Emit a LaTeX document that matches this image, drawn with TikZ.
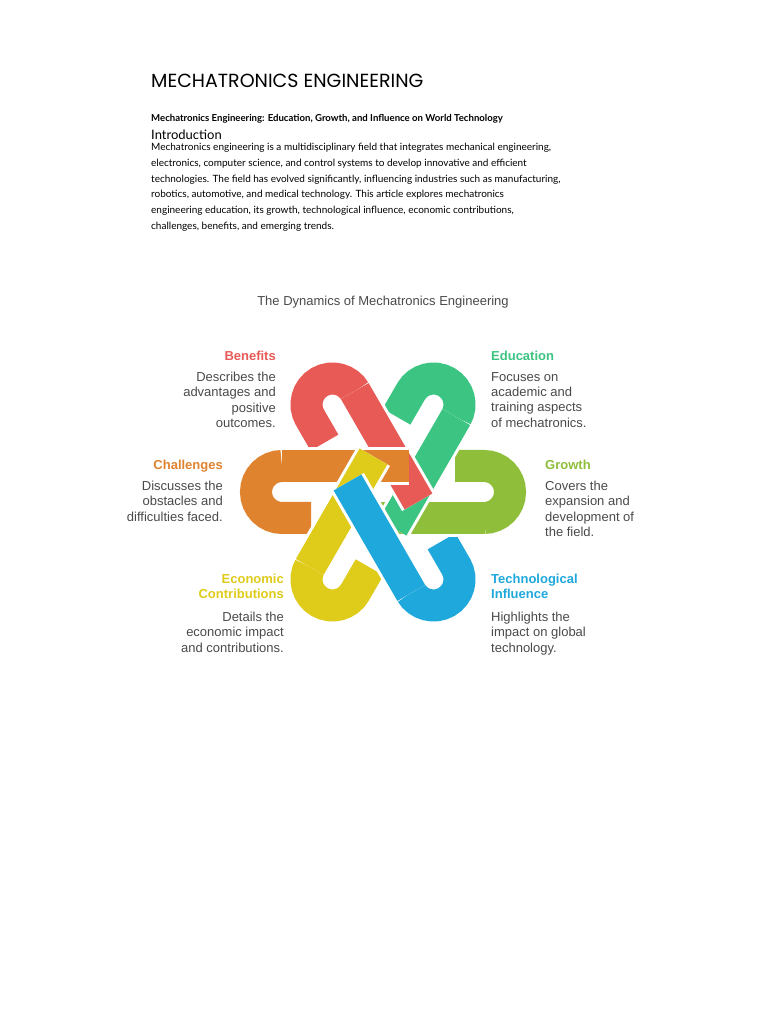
\documentclass[tikz,border=0pt]{standalone}
\usepackage{fontspec}
\setmainfont{Liberation Sans}
\newfontfamily\lato{Lato}
\newfontfamily\pop{Poppins}
\definecolor{cred}{HTML}{E85A55}
\definecolor{cgreen}{HTML}{3CC482}
\definecolor{clime}{HTML}{8FBE3A}
\definecolor{cblue}{HTML}{1FA8DC}
\definecolor{cyellow}{HTML}{DFCB1A}
\definecolor{corange}{HTML}{E0832F}
\definecolor{ctext}{HTML}{4A4A4A}
\tikzset{band/.style={draw=#1,line width=32pt,line cap=butt,preaction={draw=white,line width=38pt}},
 lab/.style={font=\fontsize{13}{15.3}\selectfont\bfseries,inner sep=0pt},
 desc/.style={font=\fontsize{13}{15.3}\selectfont,text=ctext,inner sep=0pt},
 body/.style={font=\lato\fontsize{10}{15.8}\selectfont,inner sep=0pt,anchor=north west,align=left}}
\newcommand\shortpart[2]{\begin{scope}[shift={(383,532)},rotate=#1]\draw[band=#2] (72,26) -- (101,26) arc (90:-90:26);\end{scope}}
\newcommand\longpart[2]{\begin{scope}[shift={(383,532)},rotate=#1]\draw[band=#2] (101.5,-26) -- (-26,-26);\end{scope}}
\begin{document}
\begin{tikzpicture}[x=1pt,y=1pt]
\useasboundingbox (0,0) rectangle (768,1024);
\fill[white] (0,0) rectangle (768,1024);
\node[inner sep=0pt,anchor=base west,font=\pop\fontsize{19}{22}\selectfont] (title) at (151,1024-88) {MECHATRONICS ENGINEERING};
\node[inner sep=0pt,anchor=base west,font=\lato\bfseries\fontsize{9.6}{12}\selectfont] (sub) at (151,1024-122) {Mechatronics Engineering: Education, Growth, and Influence on World Technology};
\node[inner sep=0pt,anchor=base west,font=\lato\fontsize{13}{15}\selectfont] (intro) at (151,1024-140) {Introduction};
\node[body] (txt) at (151,1024-143) {Mechatronics engineering is a multidisciplinary field that integrates mechanical engineering,\\
electronics, computer science, and control systems to develop innovative and efficient\\
technologies. The field has evolved significantly, influencing industries such as manufacturing,\\
robotics, automotive, and medical technology. This article explores mechatronics\\
engineering education, its growth, technological influence, economic contributions,\\
challenges, benefits, and emerging trends.};
\node[inner sep=0pt,font=\fontsize{13}{15}\selectfont,text=ctext] (dtitle) at (383,1024-302) {The Dynamics of Mechatronics Engineering};
% knot
\shortpart{0}{clime}\shortpart{60}{cgreen}\shortpart{120}{cred}\shortpart{180}{corange}\shortpart{240}{cyellow}\shortpart{300}{cblue}
\longpart{0}{clime}\longpart{60}{cgreen}\longpart{120}{cred}\longpart{180}{corange}\longpart{240}{cyellow}\longpart{300}{cblue}
% labels
\node[lab,text=cred,anchor=base east] (l1) at (276,1024-361) {Benefits};
\node[desc,anchor=north east,align=right] (d1) at (276,1024-372) {Describes the\\advantages and\\positive\\outcomes.};
\node[lab,text=cgreen,anchor=base west] (l2) at (491,1024-361) {Education};
\node[desc,anchor=north west,align=left] (d2) at (491,1024-372) {Focuses on\\academic and\\training aspects\\of mechatronics.};
\node[lab,text=corange,anchor=base east] (l3) at (223,1024-470) {Challenges};
\node[desc,anchor=north east,align=right] (d3) at (223,1024-481) {Discusses the\\obstacles and\\difficulties faced.};
\node[lab,text=clime,anchor=base west] (l4) at (545,1024-470) {Growth};
\node[desc,anchor=north west,align=left] (d4) at (545,1024-481) {Covers the\\expansion and\\development of\\the field.};
\node[lab,text=cyellow,anchor=north east,align=right] (l5) at (284,1024-574) {Economic\\Contributions};
\node[desc,anchor=north east,align=right] (d5) at (284,1024-612) {Details the\\economic impact\\and contributions.};
\node[lab,text=cblue,anchor=north west,align=left] (l6) at (491,1024-574) {Technological\\Influence};
\node[desc,anchor=north west,align=left] (d6) at (491,1024-612) {Highlights the\\impact on global\\technology.};
\end{tikzpicture}
\end{document}
